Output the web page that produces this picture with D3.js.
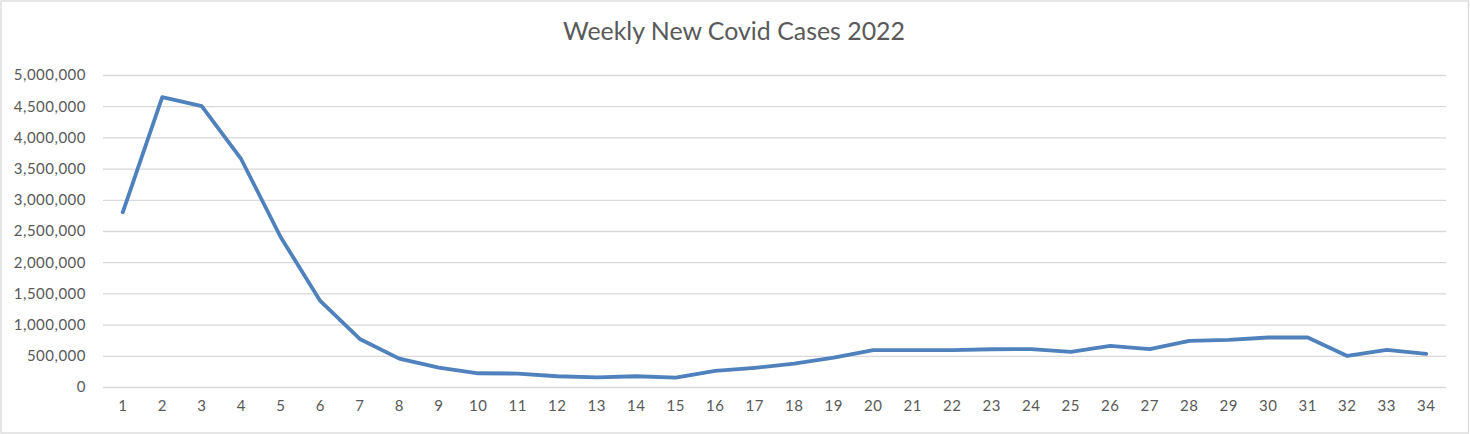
<!DOCTYPE html>
<html>
<head>
<meta charset="utf-8">
<script src="https://cdn.jsdelivr.net/npm/d3@7"></script>
<style>
  html, body { margin: 0; padding: 0; background: #fff; }
  svg { display: block; }
</style>
</head>
<body>
<svg id="chart" width="1470" height="434"></svg>
<script>
const title = "Weekly New Covid Cases 2022";
const weeks = ["1","2","3","4","5","6","7","8","9","10","11","12","13","14","15","16","17","18","19","20","21","22","23","24","25","26","27","28","29","30","31","32","33","34"];
const cases = [2800000, 4645000, 4500000, 3650000, 2400000, 1380000, 770000, 455000, 311000, 220000, 215000, 172000, 155000, 172000, 150000, 257000, 308000, 373000, 470000, 592000, 592000, 592000, 605000, 607000, 562000, 658000, 608000, 740000, 755000, 793000, 793000, 497000, 594000, 530000];
const yTicks = [0, 500000, 1000000, 1500000, 2000000, 2500000, 3000000, 3500000, 4000000, 4500000, 5000000];

const W = 1470, H = 434;
const margin = { left: 103, right: 24, top: 75, bottom: 47 };
const svg = d3.select("#chart");
const fontFam = "Lato, 'Open Sans', 'Liberation Sans', sans-serif";
const txtColor = "#595959";

// chart border
svg.append("rect")
  .attr("x", 1).attr("y", 1).attr("width", W - 2.5).attr("height", H - 2)
  .attr("fill", "#fff").attr("stroke", "#d9d9d9").attr("stroke-width", 1.3);

const x = d3.scaleBand().domain(weeks).range([margin.left, W - margin.right]);
const y = d3.scaleLinear().domain([0, 5000000]).range([H - margin.bottom, margin.top]);

// gridlines
const yAxis = d3.axisLeft(y).tickValues(yTicks).tickSize(-(W - margin.right - margin.left))
  .tickPadding(17).tickFormat(d3.format(","));
const gy = svg.append("g").attr("transform", `translate(${margin.left},0)`).call(yAxis);
gy.select(".domain").remove();
gy.selectAll(".tick line").attr("stroke", "#d9d9d9").attr("stroke-width", 1.3);
gy.selectAll(".tick text")
  .attr("fill", txtColor).style("font-family", fontFam).style("font-size", "15px")
  .style("letter-spacing", "0.5px");

// x axis
const xAxis = d3.axisBottom(x).tickSize(0).tickPadding(13);
const gx = svg.append("g").attr("transform", `translate(0,${H - margin.bottom})`).call(xAxis);
gx.select(".domain").remove();
gx.selectAll(".tick text")
  .attr("fill", txtColor).style("font-family", fontFam).style("font-size", "15px")
  .style("letter-spacing", "0.5px");

// line
const line = d3.line()
  .x((d, i) => x(weeks[i]) + x.bandwidth() / 2)
  .y(d => y(d));
svg.append("path")
  .datum(cases)
  .attr("d", line)
  .attr("fill", "none")
  .attr("stroke", "#4f81bd")
  .attr("stroke-width", 3.8)
  .attr("stroke-linejoin", "round")
  .attr("stroke-linecap", "round");

// title
const t = svg.append("text")
  .attr("x", 734).attr("y", 40)
  .attr("text-anchor", "middle")
  .attr("fill", txtColor)
  .style("font-family", fontFam)
  .style("font-size", "21px")
  .text(title);
const tw = t.node().getComputedTextLength();
if (tw > 0) t.style("font-size", (21 * 342 / tw).toFixed(2) + "px");
</script>
</body>
</html>
